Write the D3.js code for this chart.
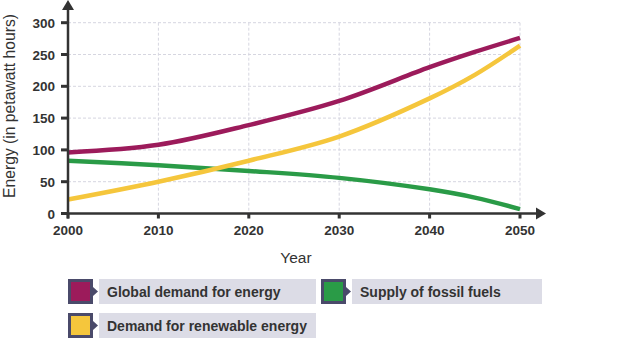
<!DOCTYPE html>
<html>
<head>
<meta charset="utf-8">
<script src="https://cdn.jsdelivr.net/npm/d3@7"></script>
<style>
  body { margin: 0; background: #fff; }
  svg { display: block; font-family: "Liberation Sans", Arial, sans-serif; }
  .tick-label { font-weight: bold; font-size: 13.5px; fill: #333; }
  .legend-label { font-weight: bold; font-size: 14px; fill: #333; }
</style>
</head>
<body>
<script>
// chart data
var years = [2000, 2010, 2020, 2030, 2040, 2045, 2050];
var globalDemand = [96, 108, 139, 177, 230, 254, 276];
var fossilSupply = [83, 76, 67, 56, 38, 25, 7];
var renewableDemand = [22, 50, 83, 121, 181, 218, 264];

var xTicks = [2000, 2010, 2020, 2030, 2040, 2050];
var yTicks = [0, 50, 100, 150, 200, 250, 300];

var seriesNames = ["Global demand for energy", "Supply of fossil fuels", "Demand for renewable energy"];
var seriesColors = ["#9c1b5b", "#2a9b47", "#f5c63c"];

window.onload = drawChart();

function drawChart() {
    var width = 624,
        height = 338;

    var svg = d3.select("body")
        .append("svg")
        .attr("width", width)
        .attr("height", height);

    var x = d3.scaleLinear().domain([2000, 2050]).range([68, 520]);
    var y = d3.scaleLinear().domain([0, 300]).range([213.5, 22.7]);

    //dashed grid
    svg.selectAll(".hgrid")
        .data(yTicks.slice(1))
        .enter()
        .append("line")
        .attr("x1", x(2000)).attr("x2", x(2050))
        .attr("y1", function(d) { return y(d); })
        .attr("y2", function(d) { return y(d); })
        .attr("stroke", "#d6d6e0")
        .attr("stroke-width", 1)
        .attr("stroke-dasharray", "3,2");

    svg.selectAll(".vgrid")
        .data(xTicks.slice(1))
        .enter()
        .append("line")
        .attr("x1", function(d) { return x(d); })
        .attr("x2", function(d) { return x(d); })
        .attr("y1", y(300)).attr("y2", y(0))
        .attr("stroke", "#d6d6e0")
        .attr("stroke-width", 1)
        .attr("stroke-dasharray", "3,2");

    //series lines
    var allSeries = [globalDemand, fossilSupply, renewableDemand];
    var line = d3.line()
        .x(function(d, i) { return x(years[i]); })
        .y(function(d) { return y(d); })
        .curve(d3.curveCatmullRom.alpha(0.5));

    svg.selectAll(".series")
        .data(allSeries)
        .enter()
        .append("path")
        .attr("d", line)
        .attr("fill", "none")
        .attr("stroke", function(d, i) { return seriesColors[i]; })
        .attr("stroke-width", 4.5)
        .attr("stroke-linecap", "butt");

    //axes
    var axisColor = "#333";
    svg.append("line")
        .attr("x1", x(2000)).attr("x2", 538)
        .attr("y1", y(0)).attr("y2", y(0))
        .attr("stroke", axisColor).attr("stroke-width", 2.5);
    svg.append("path")
        .attr("d", "M536,207.5 L546,213.5 L536,219.5 Z")
        .attr("fill", axisColor);

    svg.append("line")
        .attr("x1", x(2000)).attr("x2", x(2000))
        .attr("y1", y(0) + 5).attr("y2", 8)
        .attr("stroke", axisColor).attr("stroke-width", 2.5);
    svg.append("path")
        .attr("d", "M62,10 L68,0 L74,10 Z")
        .attr("fill", axisColor);

    //ticks and labels
    svg.selectAll(".xtick")
        .data(xTicks)
        .enter()
        .append("rect")
        .attr("x", function(d) { return x(d) - 1.5; })
        .attr("y", y(0))
        .attr("width", 3).attr("height", 5)
        .attr("fill", axisColor);

    svg.selectAll(".xlabel")
        .data(xTicks)
        .enter()
        .append("text")
        .attr("class", "tick-label")
        .attr("x", function(d) { return x(d); })
        .attr("y", 235)
        .attr("text-anchor", "middle")
        .text(function(d) { return d; });

    svg.selectAll(".ytick")
        .data(yTicks)
        .enter()
        .append("rect")
        .attr("x", 61)
        .attr("y", function(d) { return y(d) - 1.5; })
        .attr("width", 7).attr("height", 3)
        .attr("fill", axisColor);

    svg.selectAll(".ylabel")
        .data(yTicks)
        .enter()
        .append("text")
        .attr("class", "tick-label")
        .attr("x", 55)
        .attr("y", function(d) { return y(d) + 5; })
        .attr("text-anchor", "end")
        .text(function(d) { return d; });

    //axis titles
    svg.append("text")
        .attr("transform", "translate(15,106) rotate(-90)")
        .attr("text-anchor", "middle")
        .attr("font-size", "15.7px")
        .attr("fill", "#333")
        .text("Energy (in petawatt hours)");

    svg.append("text")
        .attr("x", 296)
        .attr("y", 263)
        .attr("text-anchor", "middle")
        .attr("font-size", "15.5px")
        .attr("fill", "#333")
        .text("Year");

    //legend
    var legendPos = [
        { sx: 68, bx: 99, bw: 217, ty: 279 },
        { sx: 321, bx: 352, bw: 190, ty: 279 },
        { sx: 68, bx: 99, bw: 217, ty: 313 }
    ];

    var items = svg.selectAll(".legend")
        .data(seriesNames)
        .enter()
        .append("g")
        .attr("transform", function(d, i) { return "translate(0," + legendPos[i].ty + ")"; });

    items.append("rect")
        .attr("x", function(d, i) { return legendPos[i].bx; })
        .attr("y", 0)
        .attr("width", function(d, i) { return legendPos[i].bw; })
        .attr("height", 25)
        .attr("fill", "#dcdce6");

    items.append("rect")
        .attr("x", function(d, i) { return legendPos[i].sx; })
        .attr("y", 0)
        .attr("width", 25).attr("height", 25)
        .attr("fill", "#4a4a6a");

    items.append("path")
        .attr("d", function(d, i) {
            var px = legendPos[i].sx + 25;
            return "M" + px + ",8 L" + (px + 5) + ",12.5 L" + px + ",17 Z";
        })
        .attr("fill", "#4a4a6a");

    items.append("rect")
        .attr("x", function(d, i) { return legendPos[i].sx + 3; })
        .attr("y", 3)
        .attr("width", 19).attr("height", 19)
        .attr("fill", function(d, i) { return seriesColors[i]; });

    items.append("text")
        .attr("class", "legend-label")
        .attr("x", function(d, i) { return legendPos[i].bx + 8; })
        .attr("y", 17.5)
        .text(function(d) { return d; });
}
</script>
</body>
</html>
